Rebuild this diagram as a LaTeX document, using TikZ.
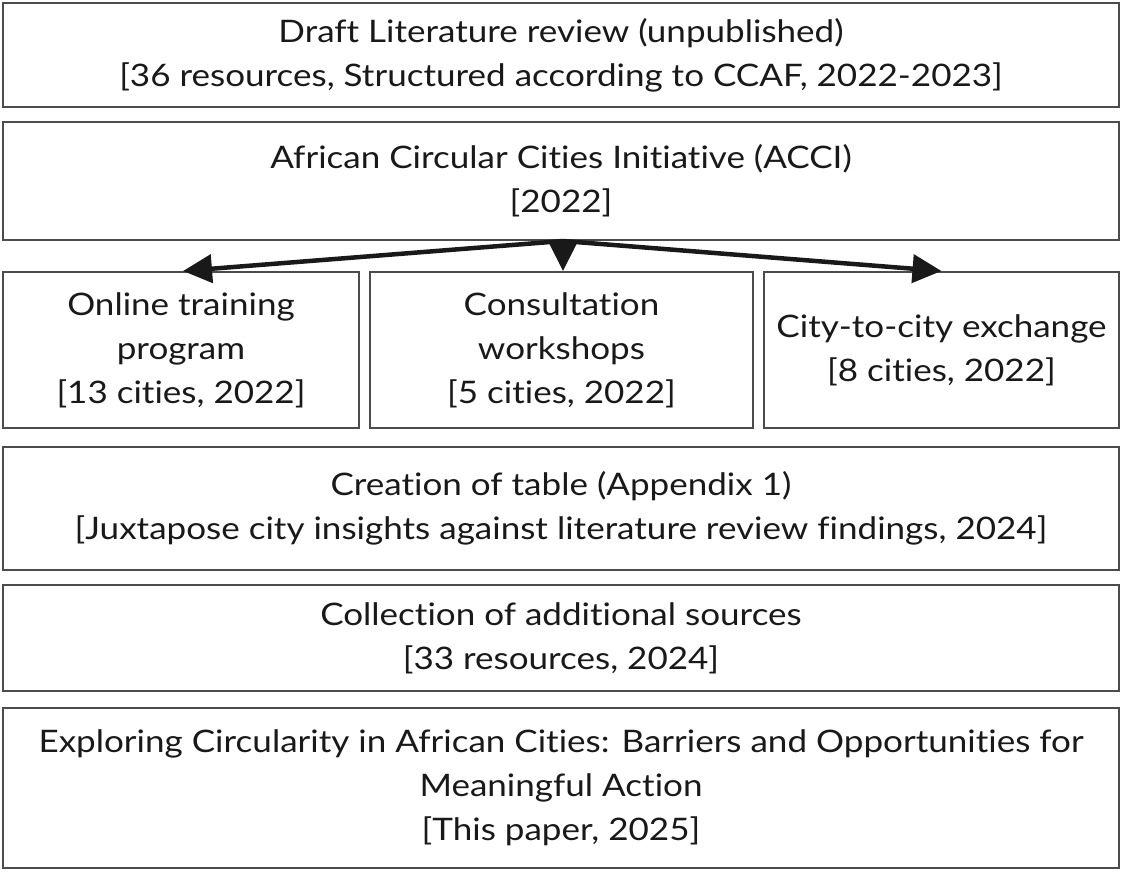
\documentclass[tikz,border=0pt]{standalone}
\usepackage{fontspec}
\setmainfont{Lato}[FakeStretch=1.13,RawFeature=-liga]
\usetikzlibrary{arrows.meta}
\begin{document}
\begin{tikzpicture}[x=1pt,y=-1pt,
  box/.style={draw=black!70,line width=2pt,fill=white,align=center,inner sep=0pt,
    font=\fontsize{31}{44}\selectfont,text=black!90},
  arr/.style={line width=4.5pt,draw=black!90,-{Triangle[length=29pt,width=28pt]}}]
\useasboundingbox (0,0) rectangle (1125,874);
\node[box,minimum width=1116pt,minimum height=104pt] (lit) at (561,55) {Draft Literature review (unpublished)\\\relax [36 resources, Structured according to CCAF, 2022-2023]};
\node[box,minimum width=1116pt,minimum height=118pt] (acci) at (561,181) {African Circular Cities Initiative (ACCI)\\\relax [2022]};
\node[box,minimum width=356pt,minimum height=156pt] (otp) at (181,350) {Online training\\program\\\relax [13 cities, 2022]};
\node[box,minimum width=383pt,minimum height=156pt] (cw) at (561.5,350) {Consultation\\workshops\\\relax [5 cities, 2022]};
\node[box,minimum width=355pt,minimum height=156pt] (cce) at (941.5,350) {City-to-city exchange\\\relax [8 cities, 2022]};
\node[box,minimum width=1116pt,minimum height=123pt] (tab) at (561,508.5) {Creation of table (Appendix 1)\\\relax [Juxtapose city insights against literature review findings, 2024]};
\node[box,minimum width=1116pt,minimum height=106pt] (add) at (561,638) {Collection of additional sources\\\relax [33 resources, 2024]};
\node[box,minimum width=1116pt,minimum height=160pt] (pap) at (561,788) {Exploring Circularity in African Cities: Barriers and Opportunities for\\Meaningful Action\\\relax [This paper, 2025]};
\coordinate (src) at ([xshift=2pt]acci.south);
\draw[arr] (src) -- ([xshift=2pt]otp.north);
\draw[arr] (src) -- ([xshift=1.5pt]cw.north);
\draw[arr] (src) -- (cce.north);
\end{tikzpicture}
\end{document}
